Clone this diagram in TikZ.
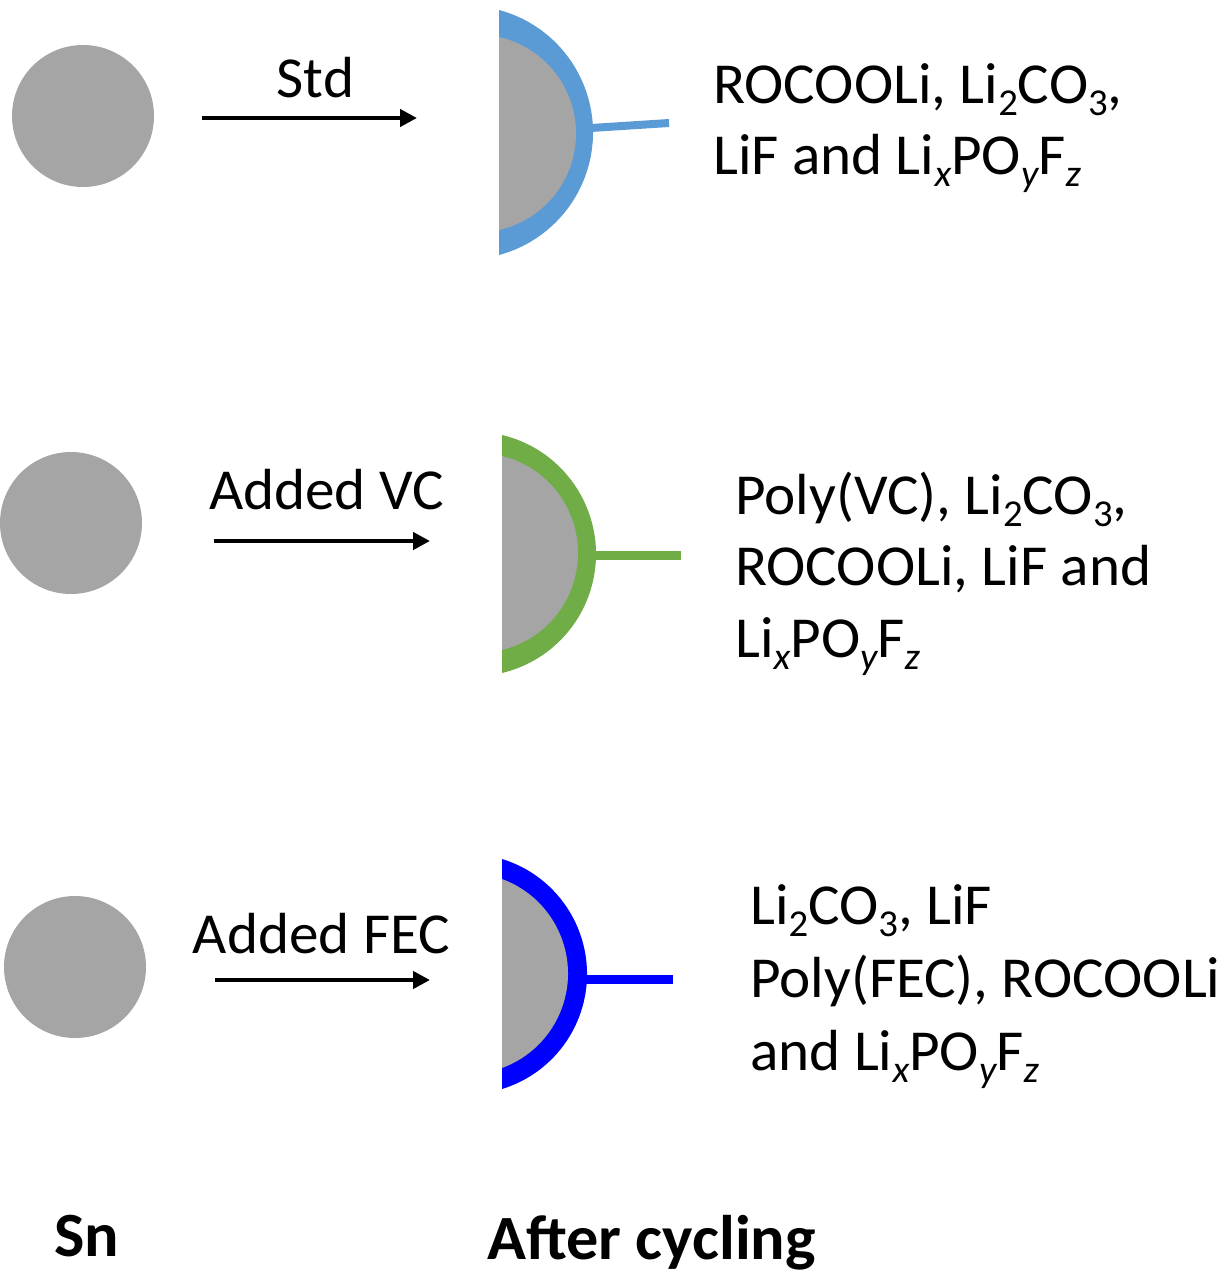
\documentclass[tikz,border=0pt]{standalone}
\usepackage{fontspec}
\setmainfont[FakeStretch=1.02]{Carlito}
\usetikzlibrary{arrows.meta}
\definecolor{snGray}{HTML}{A5A5A5}
\definecolor{stdBlue}{HTML}{5B9BD5}
\definecolor{vcGreen}{HTML}{70AD47}
\definecolor{fecBlue}{HTML}{0000FF}
\newcommand\sbs[1]{\raisebox{-12pt}{\fontsize{38}{38}\selectfont #1}}
\newcommand\sbi[1]{\raisebox{-12pt}{\fontsize{38}{38}\selectfont\itshape #1}}
% segment: x0, yc, half height, x right, colour
\newcommand\segfill[5]{%
  \pgfmathsetmacro\segR{((#3/10)^2+((#4-#1)/10)^2)/(2*(#4-#1)/10)*10}%
  \pgfmathsetmacro\segT{asin(#3/\segR)}%
  \fill[#5] (#1,{#2-#3}) arc[start angle=-\segT, end angle=\segT, radius=\segR] -- cycle;%
}
\begin{document}
\begin{tikzpicture}[x=1pt,y=-1pt,
  txt/.style={inner sep=0pt, anchor=base west, font=\fontsize{58}{71}\selectfont},
  lbl/.style={inner sep=0pt, anchor=base, font=\fontsize{58}{71}\selectfont},
  bold/.style={inner sep=0pt, anchor=base west, font=\fontsize{63}{75}\selectfont\bfseries},
  sn/.style={circle, fill=snGray, inner sep=0pt, minimum size=142pt},
  rxn/.style={line width=4.5pt, -{Triangle[length=17pt,width=17pt]}},
  stem/.style={line width=8pt}]
\useasboundingbox (0,0) rectangle (1226,1280);

% ---- row 1 (Std)
\node[sn] (sn1) at (83,116) {};
\coordinate (a1s) at (202,118);
\coordinate (a1e) at (417,118);
\draw[rxn] (a1s) -- (a1e);
\node[lbl] (l1) at (315.5,97) {Std};
\segfill{499}{132.5}{122.5}{593}{stdBlue}
\segfill{499}{133.5}{96.5}{576}{snGray}
\coordinate (s1a) at (591,128);
\coordinate (s1b) at (669,123);
\draw[stem, stdBlue] (s1a) -- (s1b);
\node[txt] (t1a) at (713,103) {ROCOOLi, Li\sbs{2}CO\sbs{3},};
\node[txt] (t1b) at (713,174) {LiF and Li\sbi{x}PO\sbi{y}F\sbi{z}};

% ---- row 2 (VC)
\node[sn] (sn2) at (71,523) {};
\coordinate (a2s) at (214,541);
\coordinate (a2e) at (430,541);
\draw[rxn] (a2s) -- (a2e);
\node[lbl] (l2) at (326.5,509) {Added VC};
\segfill{502}{554}{119}{596}{vcGreen}
\segfill{502}{553}{97}{578}{snGray}
\coordinate (s2a) at (594,555);
\coordinate (s2b) at (681,555);
\draw[stem, line width=9pt, vcGreen] (s2a) -- (s2b);
\node[txt] (t2a) at (735,514) {Poly(VC), Li\sbs{2}CO\sbs{3},};
\node[txt] (t2b) at (735,585) {ROCOOLi, LiF and};
\node[txt] (t2c) at (735,657) {Li\sbi{x}PO\sbi{y}F\sbi{z}};

% ---- row 3 (FEC)
\node[sn] (sn3) at (75,967) {};
\coordinate (a3s) at (215,980);
\coordinate (a3e) at (430,980);
\draw[rxn] (a3s) -- (a3e);
\node[lbl] (l3) at (321.5,953) {Added FEC};
\segfill{502}{974}{115}{587}{fecBlue}
\segfill{502}{973.5}{94.5}{568}{snGray}
\coordinate (s3a) at (585,979);
\coordinate (s3b) at (673,979);
\draw[stem, line width=9pt, fecBlue] (s3a) -- (s3b);
\node[txt] (t3a) at (750,924) {Li\sbs{2}CO\sbs{3}, LiF};
\node[txt] (t3b) at (750,997) {Poly(FEC), ROCOOLi};
\node[txt] (t3c) at (750,1070) {and Li\sbi{x}PO\sbi{y}F\sbi{z}};

% ---- bottom labels
\node[bold] (snlab) at (54,1256) {Sn};
\node[bold] (aclab) at (487,1259) {After cycling};
\end{tikzpicture}
\end{document}
